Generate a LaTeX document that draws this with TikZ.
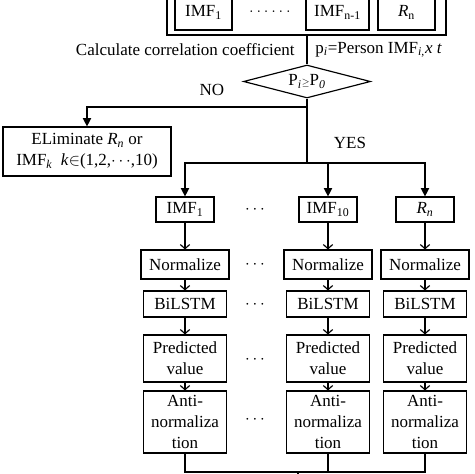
\documentclass[tikz,border=0pt]{standalone}
\usepackage{fontspec}
\setmainfont{Liberation Serif}
\usepackage{tikz}
\usetikzlibrary{arrows.meta,positioning,shapes.geometric}

\newcommand{\fs}{\fontsize{14.5}{18}\selectfont}
\tikzset{
  box/.style={draw, line width=1pt, inner sep=0pt, align=center},
  fillarrow/.style={-{Triangle[length=7pt,width=7pt]}},
  openarrow/.style={-{Straight Barb[length=3.5pt,width=8pt]}},
}

\begin{document}
\begin{tikzpicture}[x=0.03cm,y=-0.03cm,line width=1pt,font=\fs]
  \useasboundingbox (0,0) rectangle (474,474);
  \clip (0,0) rectangle (474,474);
  % decomposition result (cut by the top edge)
  \node[box,minimum width=8.37cm,minimum height=1.35cm] (decomp) at (306.5,12.5) {};
  \node[box,minimum width=1.71cm,minimum height=1.05cm] (imftop) at (203.5,12.5) {IMF\textsubscript{1}};
  \node (dtop) at (270,12) {$\ldots\ldots$};
  \node[box,minimum width=1.89cm,minimum height=1.05cm] (imfn) at (337.5,12.5) {IMF\textsubscript{n-1}};
  \node[box,minimum width=1.71cm,minimum height=1.05cm] (rtop) at (406.5,12.5) {\textit{R}\textsubscript{n}};
  % correlation test
  \node[anchor=east] (calc) at (299,50) {Calculate correlation coefficient};
  \node[anchor=west] (pers) at (311,50) {p\textsubscript{\textit{i}}=Person IMF\textsubscript{\textit{i},}\textit{x t}};
  \node[draw,diamond,aspect=3.85,minimum width=3.81cm,minimum height=0.99cm,inner sep=0pt] (test) at (307,81.5)
    {P\textsubscript{\textit{i}}{\footnotesize$\geq$}P\textsubscript{\textit{0}}};
  \draw (test.north |- decomp.south) -- (test.north);
  \node (no) at (212,90) {NO};
  \node (yes) at (350,143) {YES};
  \coordinate (split) at (307,107);
  \coordinate (bus) at (307,163);
  \node[box,minimum width=5.04cm,minimum height=1.47cm] (elim) at (87,151.5)
    {ELiminate \textit{R}\textsubscript{\textit{n}} or\\IMF\textsubscript{\textit{k}}\ \ \textit{k}$\in$(1,2,$\cdots$,10)};
  \draw (test.south) -- (split) -- (bus);
  \draw[fillarrow] (split) -| (elim.north);
  % one column per kept component
  \foreach \c/\x/\lab in {a/185/IMF\textsubscript{1}, b/328/IMF\textsubscript{10}, c/425/\textit{R}\textsubscript{\textit{n}}} {
    \node[box,minimum width=1.74cm,minimum height=0.75cm] (imf\c) at (\x,209.5) {\lab};
    \node[box,minimum width=2.64cm,minimum height=0.87cm] (norm\c) at (\x,264.5) {Normalize};
    \node[box,minimum width=2.5cm,minimum height=0.78cm] (lstm\c) at (\x,304) {BiLSTM};
    \node[box,minimum width=2.5cm,minimum height=1.41cm] (pred\c) at (\x,358.5) {Predicted\\value};
    \node[box,minimum width=2.5cm,minimum height=1.86cm] (anti\c) at (\x,422) {Anti-\\normaliza\\tion};
    \draw[openarrow] (imf\c) -- (norm\c);
    \draw[openarrow] (norm\c) -- (lstm\c);
    \draw[openarrow] (lstm\c) -- (pred\c);
    \draw[openarrow] (pred\c) -- (anti\c);
  }
  \foreach \y in {210,265,305,360,420}
    \node (dots\y) at (255,\y) {$\cdots$};
  \draw[fillarrow] (bus) -| (imfa.north);
  \draw[fillarrow] (bus) -| (imfc.north);
  \draw[fillarrow] (imfb.north |- bus) -- (imfb.north);
  % merge of the predictions
  \coordinate (join) at (298,472);
  \coordinate (out) at (298,484);
  \draw (antia.south) |- (join) -| (antic.south);
  \draw (antib.south) -- (antib.south |- join);
  \draw (join) -- (out);
\end{tikzpicture}
\end{document}
